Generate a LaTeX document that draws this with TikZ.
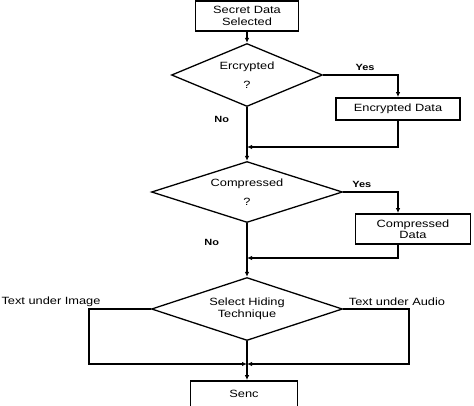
\documentclass[tikz,border=0pt]{standalone}
\usepackage{fontspec}
\setmainfont{Liberation Sans}[FakeStretch=1.22]
\usetikzlibrary{shapes.geometric,arrows.meta}
\begin{document}
\begin{tikzpicture}[x=1pt,y=-1pt, every node/.style={font=\fontsize{10.5}{11.5}\selectfont},
  box/.style={draw,line width=1.8pt,align=center,inner sep=0pt},
  decide/.style={draw,diamond,line width=1.3pt,aspect=3,inner sep=0pt,align=center},
  flow/.style={line width=1.3pt,-{Latex[length=5pt,width=4.5pt]}},
  ans/.style={font=\bfseries\fontsize{9}{10}\selectfont}]
\useasboundingbox (0,0) rectangle (474,405);
\node[box,minimum width=103,minimum height=30] (secret) at (247,16) {Secret Data\\Selected};
\node[decide,minimum width=151,minimum height=63] (enc) at (247,75) {Ercrypted\\[8pt]?};
\node[box,minimum width=124,minimum height=22] (encdata) at (398,109) {Encrypted Data};
\node[decide,minimum width=191,minimum height=61] (comp) at (247,192) {Compressed\\[8pt]?};
\node[box,minimum width=115,minimum height=30] (compdata) at (413,229) {Compressed\\Data};
\node[decide,minimum width=191,minimum height=63] (hide) at (247,309) {Select Hiding\\Technique};
\node[box,minimum width=107,minimum height=26] (send) at (244,394) {Senc};
\node (imglab) at (51,302) {Text under Image};
\node (audlab) at (397,302) {Text under Audio};
\coordinate (j1) at (247,147);
\coordinate (j2) at (247,258);
\coordinate (imgc) at (89,309);
\coordinate (audc) at (409,309);
\coordinate (j3) at (247,364);
\draw[flow] (secret) -- (enc);
\draw[flow] (enc.east) -| (encdata.north) node[ans,pos=0.28,above] (yes1) {Yes};
\draw[flow] (encdata.south) |- (j1);
\draw[flow] (enc) -- (comp) node[ans,pos=0.23,left=14pt] (no1) {No};
\draw[flow] (comp.east) -| (compdata.north -| encdata) node[ans,pos=0.17,above] (yes2) {Yes};
\draw[flow] (compdata.south -| encdata) |- (j2);
\draw[flow] (comp) -- (hide) node[ans,pos=0.35,left=24pt] (no2) {No};
\draw[flow] (hide.west) -- (imgc) |- (j3);
\draw[flow] (hide.east) -- (audc) |- (j3);
\draw[flow] (hide.south) -- (hide.south |- send.north);
\end{tikzpicture}
\end{document}
